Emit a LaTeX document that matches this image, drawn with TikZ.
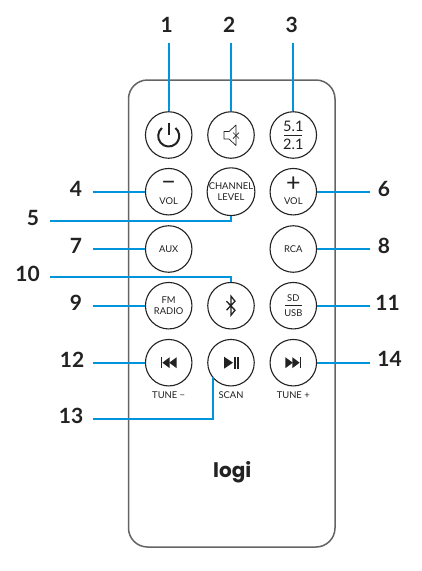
\documentclass[tikz,border=0pt]{standalone}
\usepackage{fontspec}
\setmainfont{Lato}
\newfontfamily\logofont{Poppins}
\newcommand{\fsz}[1]{\fontsize{#1}{#1}\selectfont}
\definecolor{lineblue}{HTML}{0095DA}
\definecolor{ink}{HTML}{222222}
\tikzset{
  x=1pt,y=-1pt,
  body/.style={draw=ink!70,line width=1.5pt,rounded corners=19pt},
  btn/.style={circle,draw=ink,line width=1.1pt,minimum size=46.5pt,inner sep=0pt,align=center,font=\fsz{9.4},text=ink,fill=white},
  lead/.style={draw=lineblue,line width=1.7pt},
  numlab/.style={font=\fsz{21}\bfseries,text=ink,inner sep=0pt},
  captxt/.style={font=\fsz{9.4},text=ink,inner sep=0pt},
  signtxt/.style={font=\fsz{25},text=ink,inner sep=0pt},
  hair/.style={draw=ink,line width=.7pt},
  solidicon/.style={fill=ink,draw=none},
}
\begin{document}
\begin{tikzpicture}
\useasboundingbox (0,0) rectangle (422,571);
\fill[white] (0,0) rectangle (422,571);
\draw[body] (128.5,80) rectangle (335,547);
% buttons
\node[btn] (b1) at (168.7,135) {};
\node[btn] (b2) at (231,135) {};
\node[btn,font=\fsz{14.5}] (b3) at (293.3,135) {5.1\\[3.5pt]2.1};
\node[btn] (b4) at (168.7,191.7) {};
\node[btn,font=\fsz{9.4}] (b5) at (231,191.7) {CHANNEL\\[1.5pt]LEVEL};
\node[btn] (b6) at (293.3,191.7) {};
\node[btn] (b7) at (168.7,249) {AUX};
\node[btn] (b8) at (293.3,249) {RCA};
\node[btn] (b9) at (168.7,305.7) {FM\\[1pt]RADIO};
\node[btn] (b10) at (231,305.7) {};
\node[btn] (b11) at (293.3,305.7) {SD\\[5.5pt]USB};
\node[btn] (b12) at (168.7,362.7) {};
\node[btn] (b13) at (231,362.7) {};
\node[btn] (b14) at (293.3,362.7) {};
% volume labels
\node[signtxt] (minus) at ([yshift=6pt]b4.center) {−};
\node[captxt] (vol4) at ([yshift=-9.4pt]b4.center) {VOL};
\node[signtxt] (plus) at ([yshift=7.7pt]b6.center) {+};
\node[captxt] (vol6) at ([yshift=-9.4pt]b6.center) {VOL};
% captions
\node[captxt] (c12) at (168.7,394.7) {TUNE −};
\node[captxt] (c13) at (231,394.7) {SCAN};
\node[captxt] (c14) at (293.3,394.7) {TUNE +};
\node[inner sep=0pt,font=\fsz{20}\logofont\bfseries,text=ink] (logo) at (232.3,472) {logi};
% fraction rules
\draw[hair,line width=.9pt] ([xshift=-9pt]b3.center) -- ([xshift=9pt]b3.center);
\draw[hair] ([xshift=-8.5pt]b11.center) -- ([xshift=8.5pt]b11.center);
% power icon
\begin{scope}[shift={(b1.center)}]
  \draw[ink,line width=2pt] (-6.75,-7.04) arc[start angle=230,end angle=-50,radius=10.5];
  \draw[ink,line width=2pt] (0,-12.3) -- (0,0);
\end{scope}
% mute icon
\begin{scope}[shift={(b2.center)}]
  \draw[hair,line join=round] (-7,-3.5) -- (-2,-3.5) -- (5,-10) -- (5,10.5) -- (-2,4) -- (-7,4) -- cycle;
  \draw[hair] (2,-2.5) -- (8,3.5) (2,3.5) -- (8,-2.5);
\end{scope}
% bluetooth icon
\begin{scope}[shift={(b10.center)}]
  \draw[ink,line width=1.3pt,line join=miter] (-4.5,-4.5) -- (4,4.5) -- (0,9.5) -- (0,-9.5) -- (4,-4.5) -- (-4.5,4.5);
\end{scope}
% prev
\begin{scope}[shift={(b12.center)}]
  \fill[ink] (-8,-5.5) rectangle (-6.3,5.5);
  \path[solidicon] (-6.3,0) -- (1,-5.5) -- (1,5.5) -- cycle;
  \path[solidicon] (0.5,0) -- (8,-5.5) -- (8,5.5) -- cycle;
\end{scope}
% play/pause
\begin{scope}[shift={(b13.center)}]
  \path[solidicon] (-7,-6) -- (2,0) -- (-7,6) -- cycle;
  \fill[ink] (3,-6) rectangle (5,6);
  \fill[ink] (6.3,-6) rectangle (8.3,6);
\end{scope}
% next
\begin{scope}[shift={(b14.center)}]
  \fill[ink] (6.3,-5.5) rectangle (8,5.5);
  \path[solidicon] (6.3,0) -- (-1,-5.5) -- (-1,5.5) -- cycle;
  \path[solidicon] (-0.5,0) -- (-8,-5.5) -- (-8,5.5) -- cycle;
\end{scope}
% numbers
\node[numlab] (n1) at (166.7,24.5) {1};
\node[numlab] (n2) at (229.3,24.5) {2};
\node[numlab] (n3) at (291.7,24.5) {3};
\node[numlab] (n4) at (76,189) {4};
\node[numlab] (n5) at (33,217.5) {5};
\node[numlab] (n6) at (384,188.5) {6};
\node[numlab] (n7) at (76,245.5) {7};
\node[numlab] (n8) at (384,245.5) {8};
\node[numlab] (n10) at (27.5,273.5) {10};
\node[numlab] (n9) at (76,302.7) {9};
\node[numlab] (n11) at (387.5,302.7) {11};
\node[numlab] (n12) at (72,359.5) {12};
\node[numlab] (n13) at (71,415.5) {13};
\node[numlab] (n14) at (389.5,359) {14};
% free ends of the leaders
\coordinate (e1) at (b1.north |- 0,43.3);
\coordinate (e2) at (b2.north |- 0,43.3);
\coordinate (e3) at (b3.north |- 0,43.3);
\coordinate (e4) at (92.7,191.7);
\coordinate (e5) at (50,220.8);
\coordinate (e6) at (370,191.7);
\coordinate (e7) at (92.7,249);
\coordinate (e8) at (370,249);
\coordinate (e9) at (92.7,305.7);
\coordinate (e10) at (50,277);
\coordinate (e11) at (370,305.7);
\coordinate (e12) at (92.7,362.7);
\coordinate (e13) at (92.7,419);
\coordinate (e14) at (370,362.7);
\coordinate (k13) at (213.3,377);
% leaders
\draw[lead] (e1) -- (b1.north);
\draw[lead] (e2) -- (b2.north);
\draw[lead] (e3) -- (b3.north);
\draw[lead] (e4) -- (b4.west);
\draw[lead] (b6.east) -- (e6);
\draw[lead] (e7) -- (b7.west);
\draw[lead] (b8.east) -- (e8);
\draw[lead] (e9) -- (b9.west);
\draw[lead] (b11.east) -- (e11);
\draw[lead] (e12) -- (b12.west);
\draw[lead] (b14.east) -- (e14);
\draw[lead] (e5) -| (b5.south);
\draw[lead] (e10) -| (b10.north);
\draw[lead] (e13) -| (k13);
\end{tikzpicture}
\end{document}
